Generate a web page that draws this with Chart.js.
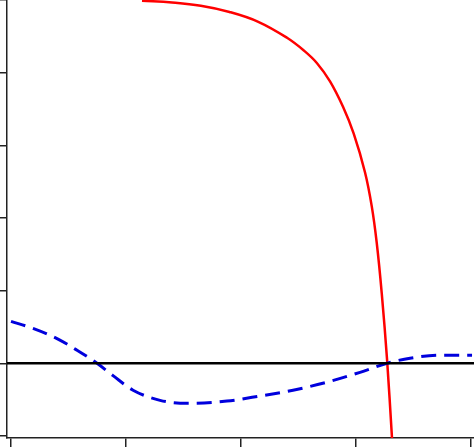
<!DOCTYPE html>
<html>
<head>
<meta charset="utf-8">
<script src="https://cdn.jsdelivr.net/npm/chart.js@4/dist/chart.umd.min.js"></script>
<style>
  body { margin: 0; background: #fff; }
</style>
</head>
<body>
<canvas id="myChart" width="474" height="447"></canvas>
<script>
// Werte
const redX = [1.139, 1.40, 1.65, 1.90, 2.15, 2.40, 2.55, 2.661, 2.774, 2.887, 2.98, 3.078, 3.137, 3.18, 3.224, 3.27, 3.313];
const redY = [4.99, 4.965, 4.92, 4.835, 4.70, 4.48, 4.30, 4.13, 3.88, 3.53, 3.16, 2.63, 2.16, 1.66, 0.96, 0.05, -1.03];

const blueX = [0, 0.191, 0.40, 0.574, 0.748, 0.887, 1.061, 1.296, 1.53, 1.878, 2.165, 2.452, 2.748, 3.035, 3.27, 3.47, 3.73, 4.009];
const blueY = [0.578, 0.48, 0.34, 0.18, 0.0, -0.17, -0.37, -0.51, -0.55, -0.52, -0.45, -0.37, -0.26, -0.124, 0.0, 0.07, 0.11, 0.11];

const xTicks = [0, 1, 2, 3, 4];
const yTicks = [-1, 0, 1, 2, 3, 4, 5];

const toPoints = (xs, ys) => xs.map((x, i) => ({ x: x, y: ys[i] }));

const ctx = document.getElementById('myChart').getContext('2d');
const chart = new Chart(ctx, {
    type: 'line',
    data: {
        datasets: [
            {
                // Nulllinie
                data: [{ x: -0.035, y: 0 }, { x: 4.026, y: 0 }],
                borderColor: '#000000',
                borderWidth: 2.5,
                pointRadius: 0
            },
            {
                data: toPoints(blueX, blueY),
                borderColor: '#0000dd',
                borderWidth: 3,
                borderDash: [15, 8],
                pointRadius: 0,
                cubicInterpolationMode: 'monotone'
            },
            {
                data: toPoints(redX, redY),
                borderColor: '#ff0000',
                borderWidth: 2.5,
                pointRadius: 0,
                tension: 0.4
            }
        ]
    },
    options: {
        responsive: false,
        animation: false,
        layout: { padding: 0 },
        plugins: {
            legend: { display: false },
            tooltip: { enabled: false }
        },
        scales: {
            x: {
                type: 'linear',
                min: -0.035,
                max: 4.026,
                afterBuildTicks: scale => { scale.ticks = xTicks.map(v => ({ value: v })); },
                ticks: { display: false },
                grid: { drawOnChartArea: false, drawTicks: true, tickLength: 9, color: '#222', lineWidth: 1.5 },
                border: { color: '#222', width: 1.5 }
            },
            y: {
                type: 'linear',
                min: -1.028,
                max: 5,
                afterBuildTicks: scale => { scale.ticks = yTicks.map(v => ({ value: v })); },
                ticks: { display: false },
                grid: { drawOnChartArea: false, drawTicks: true, tickLength: 7, color: '#222', lineWidth: 1.5 },
                border: { color: '#222', width: 1.5 }
            }
        }
    }
});
</script>
</body>
</html>
